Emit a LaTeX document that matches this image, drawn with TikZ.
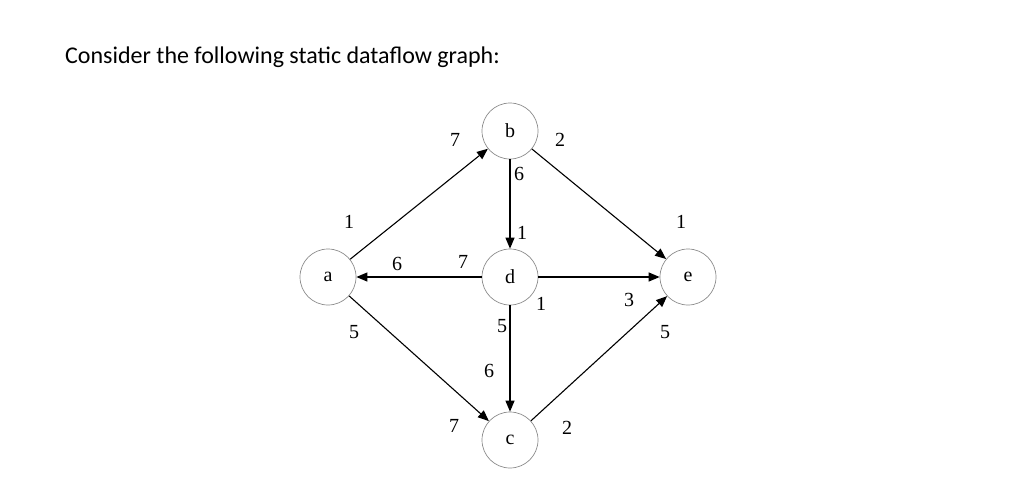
\documentclass[tikz,border=0pt]{standalone}
\usepackage{fontspec}
\setmainfont{Liberation Serif}
\newfontfamily\titlefont{Carlito}
\usetikzlibrary{arrows.meta}
\begin{document}
\begin{tikzpicture}[x=1pt,y=-1pt,
  vtx/.style={circle,draw=black!45,line width=0.7pt,minimum size=56pt,inner sep=0pt,font=\fontsize{20}{20}\selectfont},
  edge/.style={-{Triangle[length=11pt,width=9pt]},line width=1.1pt},
  lbl/.style={font=\fontsize{20}{20}\selectfont,inner sep=0pt}]
\useasboundingbox (0,0) rectangle (1024,485);
\node[anchor=west,font=\titlefont\fontsize{24}{24}\selectfont,inner sep=0pt] (title) at (65,57) {Consider the following static dataflow graph:};
\node[vtx] (a) at (328,277) {a};
\node[vtx] (b) at (510,131) {b};
\node[vtx] (d) at (510,277) {d};
\node[vtx] (c) at (510,440) {c};
\node[vtx] (e) at (688,277) {e};
\draw[edge] (a) -- (b);
\draw[edge] (b) -- (e);
\draw[edge] (b) -- (d);
\draw[edge] (d) -- (a);
\draw[edge] (d) -- (e);
\draw[edge] (d) -- (c);
\draw[edge] (a) -- (c);
\draw[edge] (c) -- (e);
\node[lbl] (l1) at (455,140) {7};
\node[lbl] (l2) at (560,140) {2};
\node[lbl] (l3) at (519,174) {6};
\node[lbl] (l4) at (349,222) {1};
\node[lbl] (l5) at (522,233) {1};
\node[lbl] (l6) at (681,222) {1};
\node[lbl] (l7) at (397,264) {6};
\node[lbl] (l8) at (463,262) {7};
\node[lbl] (l9) at (541,304) {1};
\node[lbl] (l10) at (629,300) {3};
\node[lbl] (l11) at (354,332) {5};
\node[lbl] (l12) at (502,326) {5};
\node[lbl] (l13) at (665,332) {5};
\node[lbl] (l14) at (489,371) {6};
\node[lbl] (l15) at (454,426) {7};
\node[lbl] (l16) at (567,428) {2};
\end{tikzpicture}
\end{document}
